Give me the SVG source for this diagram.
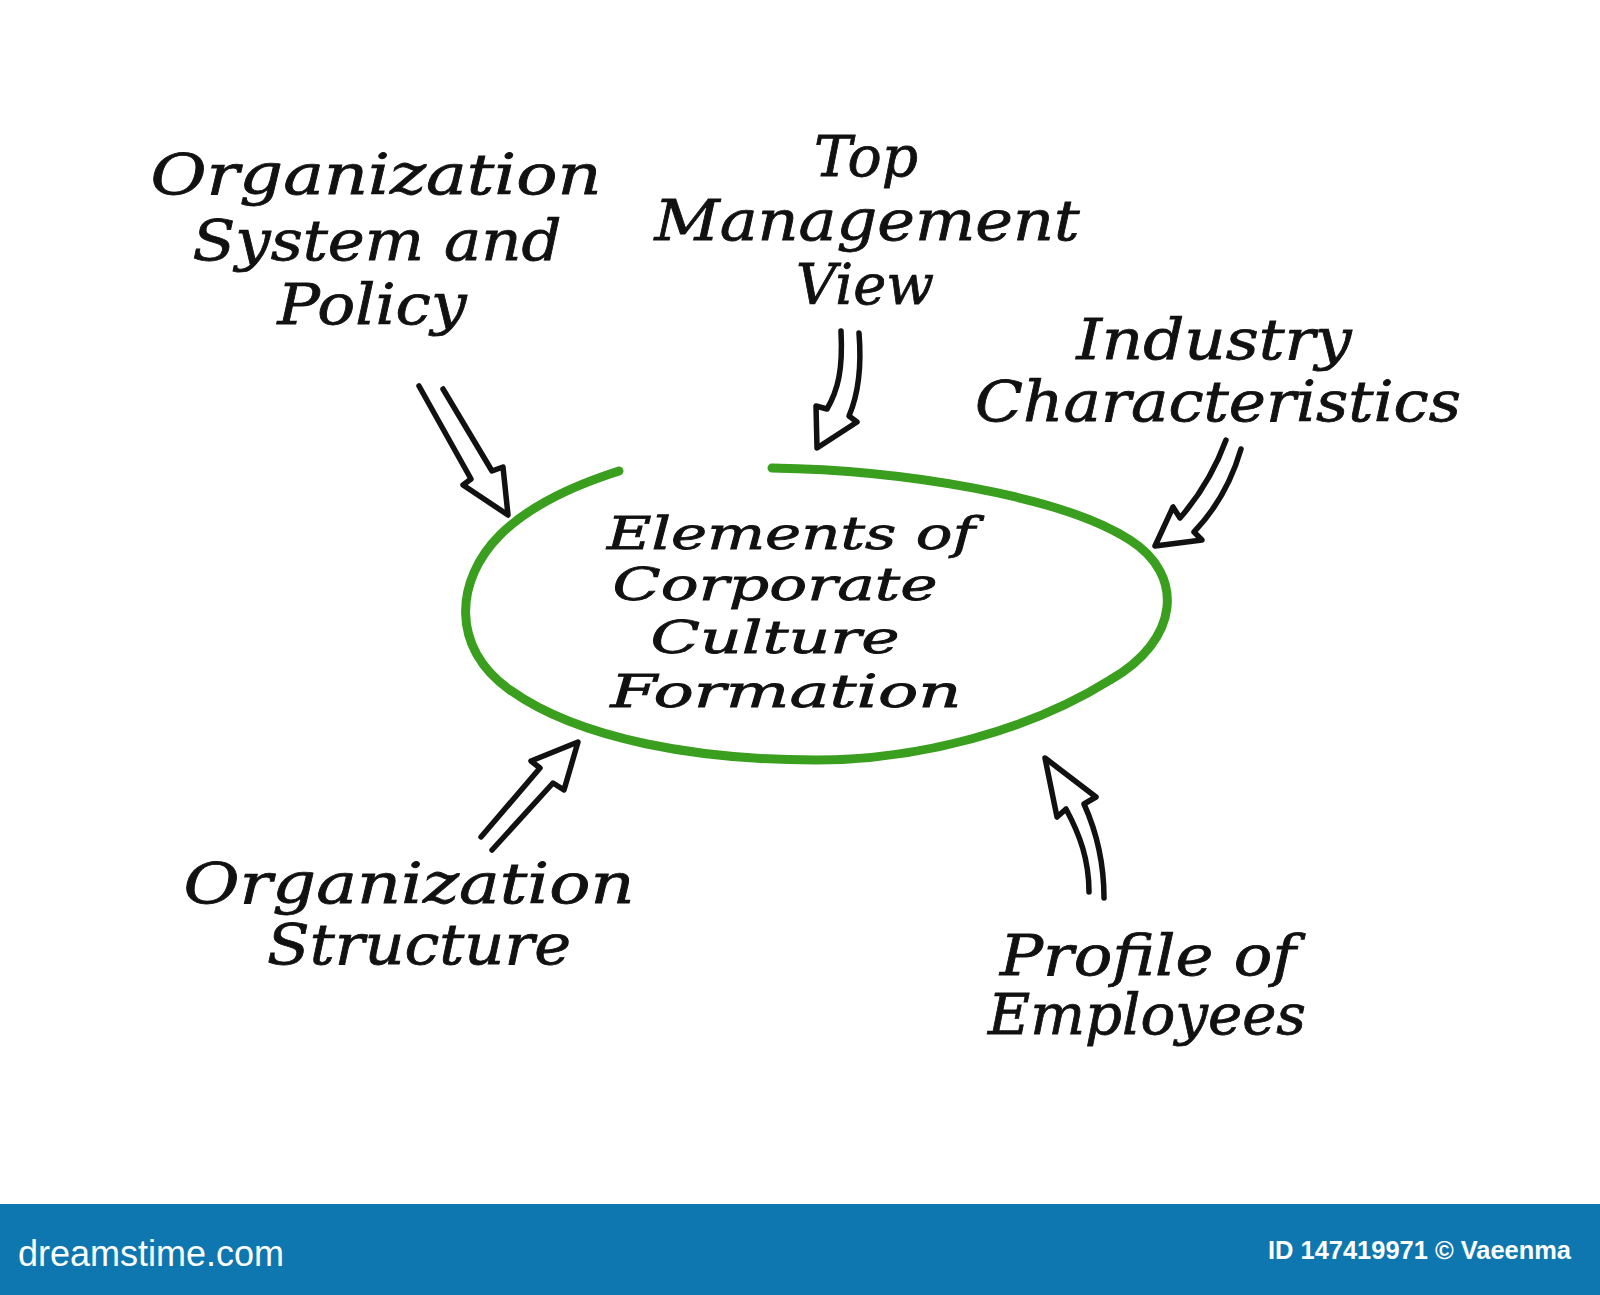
<svg xmlns="http://www.w3.org/2000/svg" width="1600" height="1295" viewBox="0 0 1600 1295">
<style>
.t{font-family:"DejaVu Serif","Liberation Serif",serif;font-style:italic;font-size:56px;fill:#111;stroke:#111;stroke-width:0.8;text-anchor:middle}
.c{font-size:44px}
.a{fill:none;stroke:#111;stroke-width:5.5;stroke-linecap:round;stroke-linejoin:round}
</style>
<rect width="1600" height="1295" fill="#fff"/>
<g id="center">
<path d="M772,468 C900,470 1060,495 1130,540 C1185,575 1180,640 1110,680 C1030,730 920,760 816,760 C700,760 580,740 510,690 C450,648 455,580 500,535 C530,505 575,485 619,471" fill="none" stroke="#3a9e1e" stroke-width="9" stroke-linecap="round"/>
<text class="t c" x="791" y="549" textLength="368" lengthAdjust="spacingAndGlyphs">Elements of</text>
<text class="t c" x="775" y="600" textLength="325" lengthAdjust="spacingAndGlyphs">Corporate</text>
<text class="t c" x="775" y="653" textLength="249" lengthAdjust="spacingAndGlyphs">Culture</text>
<text class="t c" x="786" y="707" textLength="351" lengthAdjust="spacingAndGlyphs">Formation</text>
</g>
<g id="policy">
<text class="t" x="376" y="194" textLength="451" lengthAdjust="spacingAndGlyphs">Organization</text>
<text class="t" x="377" y="260" textLength="369" lengthAdjust="spacingAndGlyphs">System and</text>
<text class="t" x="372" y="324" textLength="189" lengthAdjust="spacingAndGlyphs">Policy</text>
</g>
<g id="topmgmt">
<text class="t" x="866" y="176" textLength="104" lengthAdjust="spacingAndGlyphs">Top</text>
<text class="t" x="867" y="240" textLength="425" lengthAdjust="spacingAndGlyphs">Management</text>
<text class="t" x="865" y="304" textLength="138" lengthAdjust="spacingAndGlyphs">View</text>
</g>
<g id="industry">
<text class="t" x="1214" y="359" textLength="275" lengthAdjust="spacingAndGlyphs">Industry</text>
<text class="t" x="1218" y="421" textLength="486" lengthAdjust="spacingAndGlyphs">Characteristics</text>
</g>
<g id="structure">
<text class="t" x="409" y="903" textLength="451" lengthAdjust="spacingAndGlyphs">Organization</text>
<text class="t" x="419" y="964" textLength="304" lengthAdjust="spacingAndGlyphs">Structure</text>
</g>
<g id="employees">
<text class="t" x="1148" y="975" textLength="296" lengthAdjust="spacingAndGlyphs">Profile of</text>
<text class="t" x="1147" y="1034" textLength="318" lengthAdjust="spacingAndGlyphs">Employees</text>
</g>
<g id="connectors">
<path class="a" d="M419,386 L471,479 L463,485 L508,515 L503,467 L492,471 L443,389"/>
<path class="a" d="M841,331 C843,370 838,390 827,409 L816,406 L817,448 L857,422 L849,416 C858,395 862,370 859,333"/>
<path class="a" d="M1226,440 C1215,470 1200,495 1180,518 L1173,507 L1155,546 L1202,540 L1194,532 C1215,510 1232,480 1241,449"/>
<path class="a" d="M481,837 L540,768 L531,761 L578,742 L564,790 L553,783 L492,850"/>
<path class="a" d="M1089,892 C1089,860 1080,835 1066,809 L1057,817 L1045,758 L1096,797 L1084,804 C1098,835 1104,865 1104,898"/>
</g>
<g id="footer">
<rect x="0" y="1204" width="1600" height="91" fill="#0f77b0"/>
<text x="18" y="1266" font-family="Liberation Sans,sans-serif" font-size="36" fill="#fff" textLength="266" lengthAdjust="spacingAndGlyphs">dreamstime.com</text>
<text x="1571" y="1259" font-family="Liberation Sans,sans-serif" font-weight="bold" font-size="26" fill="#fff" text-anchor="end" textLength="303" lengthAdjust="spacingAndGlyphs">ID 147419971 © Vaeenma</text>
</g>
</svg>
